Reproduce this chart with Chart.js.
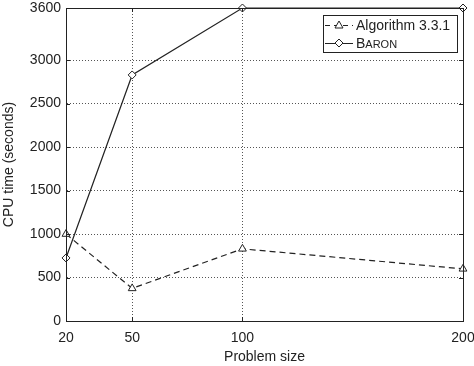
<!DOCTYPE html>
<html><head><meta charset="utf-8">
<script src="https://cdn.jsdelivr.net/npm/chart.js@4/dist/chart.umd.min.js"></script>
<style>html,body{margin:0;padding:0;background:#fff}#wrap{width:474px;height:366px}</style>
</head><body><div id="wrap"><canvas id="c" width="474" height="366"></canvas></div>
<script>
const problemSizes = [20, 50, 100, 200];
const algorithmTimes = [1000, 375, 830, 600];
const baronTimes = [725, 2830, 3600, 3600];
const xTicks = [20, 50, 100, 200];
const yTicks = [0, 500, 1000, 1500, 2000, 2500, 3000, 3600];
const seriesNames = ['Algorithm 3.3.1', 'Baron'];

const FONT = '"Liberation Sans", Arial, Helvetica, sans-serif';
const INK = '#222';

const boxPlugin = {
  id: 'box',
  afterDatasetsDraw(chart) {
    const {ctx, chartArea: a} = chart;
    ctx.save();
    ctx.strokeStyle = INK; ctx.lineWidth = 1; ctx.setLineDash([]);
    ctx.strokeRect(Math.round(a.left) + 0.5, Math.round(a.top) + 0.5, Math.round(a.right - a.left), Math.round(a.bottom - a.top));
    const xs = chart.scales.x, ys = chart.scales.y;
    ctx.beginPath();
    xTicks.forEach(v => { const px = Math.round(xs.getPixelForValue(v)) + 0.5; ctx.moveTo(px, a.bottom); ctx.lineTo(px, a.bottom - 4); ctx.moveTo(px, a.top); ctx.lineTo(px, a.top + 4); });
    yTicks.forEach(v => { const py = Math.round(ys.getPixelForValue(v)) + 0.5; ctx.moveTo(a.left, py); ctx.lineTo(a.left + 4, py); ctx.moveTo(a.right, py); ctx.lineTo(a.right - 4, py); });
    ctx.stroke();
    ctx.restore();
  },
  afterDraw(chart) {
    const {ctx} = chart;
    const L = 323, T = 15, W = 134, H = 37;
    ctx.save();
    ctx.fillStyle = '#fff';
    ctx.fillRect(L, T, W, H);
    ctx.strokeStyle = INK; ctx.lineWidth = 1; ctx.setLineDash([]);
    ctx.strokeRect(L + 0.5, T + 0.5, W, H);
    const rows = [T + 10, T + 28];
    ctx.beginPath(); ctx.setLineDash([5, 4]);
    ctx.moveTo(L + 2, rows[0] + 0.5); ctx.lineTo(L + 30, rows[0] + 0.5); ctx.stroke();
    ctx.setLineDash([]);
    ctx.fillStyle = '#fff';
    ctx.beginPath(); ctx.moveTo(L + 16, rows[0] - 4); ctx.lineTo(L + 20, rows[0] + 3); ctx.lineTo(L + 12, rows[0] + 3); ctx.closePath(); ctx.fill(); ctx.stroke();
    ctx.beginPath(); ctx.moveTo(L + 2, rows[1] + 0.5); ctx.lineTo(L + 30, rows[1] + 0.5); ctx.stroke();
    ctx.beginPath(); ctx.moveTo(L + 16, rows[1] - 4); ctx.lineTo(L + 20, rows[1]); ctx.lineTo(L + 16, rows[1] + 4); ctx.lineTo(L + 12, rows[1]); ctx.closePath(); ctx.fill(); ctx.stroke();
    ctx.fillStyle = INK; ctx.textBaseline = 'middle'; ctx.textAlign = 'left';
    ctx.font = '14px ' + FONT;
    ctx.fillText(seriesNames[0], L + 33, rows[0] + 1);
    const name = seriesNames[1];
    ctx.font = '14px ' + FONT;
    ctx.fillText(name[0].toUpperCase(), L + 33, rows[1] + 1);
    const w0 = ctx.measureText(name[0].toUpperCase()).width;
    ctx.font = '11px ' + FONT;
    ctx.fillText(name.slice(1).toUpperCase(), L + 33 + w0, rows[1] + 2);
    ctx.restore();
  }
};

const pts = (xs, ys) => xs.map((x, i) => ({x, y: ys[i]}));

new Chart(document.getElementById('c'), {
  type: 'line',
  data: {
    datasets: [
      { label: seriesNames[0], data: pts(problemSizes, algorithmTimes), borderColor: INK, borderWidth: 1.2, borderDash: [6, 4],
        pointStyle: 'triangle', pointRadius: 4.5, pointBorderWidth: 1, pointBackgroundColor: '#fff', pointBorderColor: INK, tension: 0, clip: false },
      { label: seriesNames[1], data: pts(problemSizes, baronTimes), borderColor: INK, borderWidth: 1.2,
        pointStyle: 'rectRot', pointRadius: 4, pointBorderWidth: 1, pointBackgroundColor: '#fff', pointBorderColor: INK, tension: 0, clip: false }
    ]
  },
  options: {
    responsive: false, animation: false, devicePixelRatio: 1,
    layout: { padding: { left: 0, right: 11, top: 8, bottom: 0 } },
    plugins: { legend: { display: false }, tooltip: { enabled: false } },
    scales: {
      x: {
        type: 'linear', min: 20, max: 200,
        afterBuildTicks: s => { s.ticks = xTicks.map(v => ({value: v})); },
        afterFit: s => { s.height = 45; s.paddingLeft = 0; s.paddingRight = 0; },
        grid: { color: '#555', lineWidth: 1, drawTicks: false },
        border: { display: true, color: INK, width: 1, dash: [1, 2] },
        ticks: { color: INK, font: { family: FONT, size: 14 }, padding: 9, maxRotation: 0, autoSkip: false, callback: v => String(v) },
        title: { display: true, text: 'Problem size', color: INK, font: { family: FONT, size: 14 }, padding: { top: 2, bottom: 0 } }
      },
      y: {
        min: 0, max: 3600,
        afterBuildTicks: s => { s.ticks = yTicks.map(v => ({value: v})); },
        afterFit: s => { s.width = 66; s.paddingTop = 0; s.paddingBottom = 0; },
        grid: { color: '#555', lineWidth: 1, drawTicks: false },
        border: { display: true, color: INK, width: 1, dash: [1, 2] },
        ticks: { color: INK, font: { family: FONT, size: 14 }, padding: 5, autoSkip: false, callback: v => String(v) },
        title: { display: true, text: 'CPU time (seconds)', color: INK, font: { family: FONT, size: 14 }, padding: { top: 1, bottom: 4 } }
      }
    }
  },
  plugins: [boxPlugin]
});
</script></body></html>
